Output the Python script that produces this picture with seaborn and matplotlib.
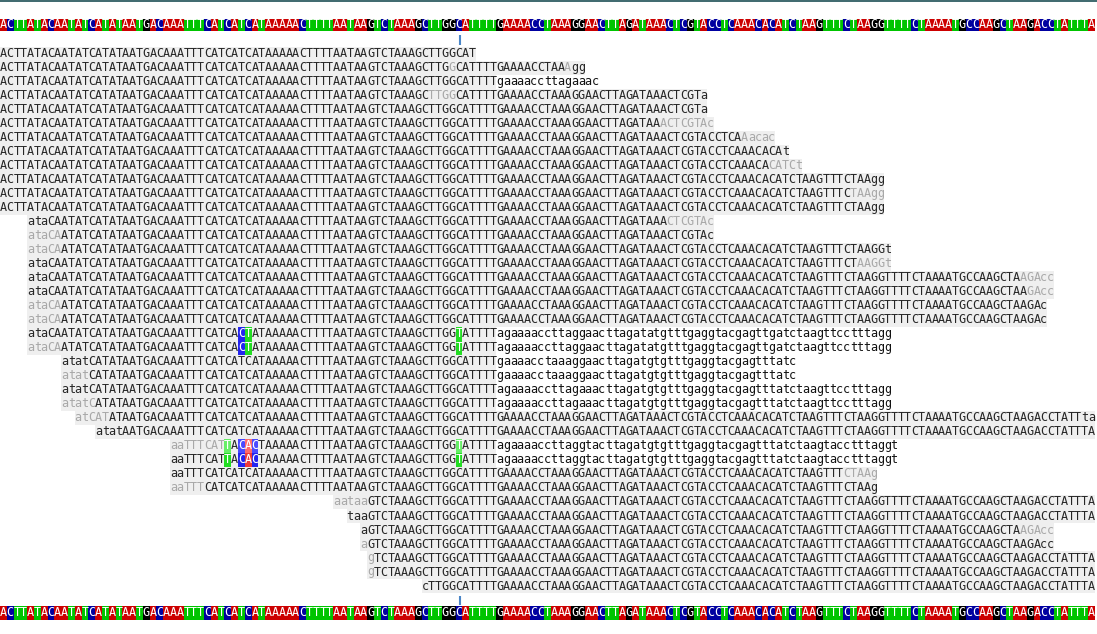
import numpy as np
import matplotlib
matplotlib.use("Agg")
import matplotlib.pyplot as plt
from matplotlib.colors import ListedColormap
import seaborn as sns

# reference sequence shown in the coloured bands
REF = ("ACTTATACAATATCATATAATGACAAATTTCATCATCATAAAAACTTTTAATAAGTCTAAAGCTTGGCAT"
       "TTTGAAAACCTAAAGGAACTTAGATAAACTCGTACCTCAAACACATCTAAGTTTCTAAGGTTTTCTAAAA"
       "TGCCAAGCTAAGACCTATTTA")

T21 = "agaaaaccttaggaacttagatatgtttgaggtacgagttgatctaagttcctttagg"
T23 = "gaaaacctaaaggaacttagatgtgtttgaggtacgagtttatc"
T25 = "agaaaaccttagaaacttagatgtgtttgaggtacgagtttatctaagttcctttagg"
T29 = "agaaaaccttaggtacttagatgtgtttgaggtacgagtttatctaagtacctttaggt"

# reads: first column, soft clip left, last aligned column, soft clip right
read_starts = [0] * 12 + [4] * 10 + [9] * 4 + [11, 14] + [25] * 4 + [49, 51, 53, 53, 54, 54, 62]
read_left = [""] * 12 + ["ata"] * 10 + ["atat"] * 4 + ["at", "atat"] + ["aa"] * 4 + \
            ["aataa", "taa", "a", "a", "g", "g", "c"]
read_stops = [69, 83, 72, 102, 102, 103, 109, 114, 116, 127, 127, 127,
              103, 103, 129, 129, 152, 152, 152, 152, 72, 72,
              72, 72, 72, 72, 158, 160, 72, 72, 127, 127,
              160, 160, 152, 152, 160, 160, 160]
read_right = ["", "gg", "gaaaaccttagaaac", "a", "a", "c", "acac", "t", "t", "gg", "gg", "gg",
              "c", "c", "t", "t", "cc", "cc", "c", "c", T21, T21,
              T23, T23, T25, T25, "ta", "", T29, T29, "g", "g",
              "", "", "cc", "cc", "", "", ""]
read_white = [2, 20, 21, 22, 23, 24, 25, 28, 29]
mismatches = {20: {35: "C", 36: "T", 67: "T"},
              21: {35: "C", 36: "T", 67: "T"},
              28: {33: "T", 35: "C", 36: "A", 37: "C", 67: "T"},
              29: {33: "T", 35: "C", 36: "A", 37: "C", 67: "T"}}
hl_light = [28]
# low quality stretches (row, first col, last col)
faded = [(1, 66, 66), (1, 83, 83), (3, 63, 66), (5, 97, 104), (6, 109, 113),
         (8, 113, 117), (10, 125, 129), (12, 98, 104), (13, 4, 8), (14, 4, 8),
         (15, 126, 130), (16, 150, 154), (17, 151, 154), (18, 4, 8), (19, 4, 8),
         (21, 4, 8), (23, 9, 12), (25, 9, 13), (26, 11, 15), (28, 25, 32),
         (30, 124, 128), (31, 25, 29), (32, 49, 53), (34, 150, 154), (35, 53, 53),
         (36, 54, 54), (37, 54, 54)]

PX = 6.8
ROW = 14
W, H = 1097, 634
TOP = 47
ncol = len(REF)
nview = W / PX

base_code = {"A": 2, "C": 3, "G": 4, "T": 5}
palette = ["#efefef", "#ffffff", "#ee3a3a", "#2424f0", "#000000", "#22dd22",
           "#ff6a6a", "#4a4aff", "#000000", "#66ee66"]
font = {"fontsize": 8.5, "fontfamily": "DejaVu Sans Mono"}

n = len(read_starts)
codes = np.full((n, ncol), np.nan)
chars = np.full((n, ncol), "", dtype=object)
tcol = np.full((n, ncol), "#262626", dtype=object)
for i in range(n):
    s = read_starts[i]
    a = s + len(read_left[i])
    seq = read_left[i] + REF[a:read_stops[i] + 1] + read_right[i]
    for k, ch in enumerate(seq):
        if s + k < ncol:
            chars[i, s + k] = ch
            codes[i, s + k] = 0
    if i in read_white:
        t0 = read_stops[i] + 1
        t1 = min(t0 + len(read_right[i]), ncol)
        codes[i, t0:t1] = 1
        tcol[i, t0:t1] = "#111111"
    for c, b in mismatches.get(i, {}).items():
        chars[i, c] = b
        codes[i, c] = base_code[b] + (4 if i in hl_light else 0)
        tcol[i, c] = "white"
for i, c0, c1 in faded:
    tcol[i, c0:c1 + 1] = "#a8a8a8"

fig = plt.figure(figsize=(W / 100, H / 100), dpi=100)
ax = fig.add_axes([0, 0, 1, 1])
sns.heatmap(codes, cmap=ListedColormap(palette), vmin=-0.5, vmax=9.5,
            annot=chars, fmt="", annot_kws=font, cbar=False,
            xticklabels=False, yticklabels=False, ax=ax)
for t in ax.texts:
    x, y = t.get_position()
    t.set_color(tcol[int(y), int(x)])
ax.set_xlim(0, nview)
ax.set_ylim((H - TOP) / ROW, -TOP / ROW)

# position markers and top rule
ax.vlines(67.6, (35 - TOP) / ROW, (45 - TOP) / ROW, color="#4a86c8", lw=1.5)
ax.vlines(67.6, (596 - TOP) / ROW, (605 - TOP) / ROW, color="#4a86c8", lw=1.5)
ax.axhline((1.5 - TOP) / ROW, color="#1e4f55", lw=1.2)

# reference bands, top and bottom
ref_codes = np.array([[base_code[b] - 2 for b in REF]])
ref_chars = np.array([list(REF)], dtype=object)
band_cmap = ListedColormap(["#cc0000", "#0000a0", "#000000", "#00c400"])
for y0, y1 in [(19, 30.5), (606, 620)]:
    bax = fig.add_axes([0, 1 - y1 / H, 1, (y1 - y0) / H])
    sns.heatmap(ref_codes, cmap=band_cmap, vmin=-0.5, vmax=3.5,
                annot=ref_chars, fmt="", annot_kws=dict(font, color="white"),
                cbar=False, xticklabels=False, yticklabels=False, ax=bax)
    bax.set_xlim(0, nview)

fig.savefig("out.png", dpi=100)
